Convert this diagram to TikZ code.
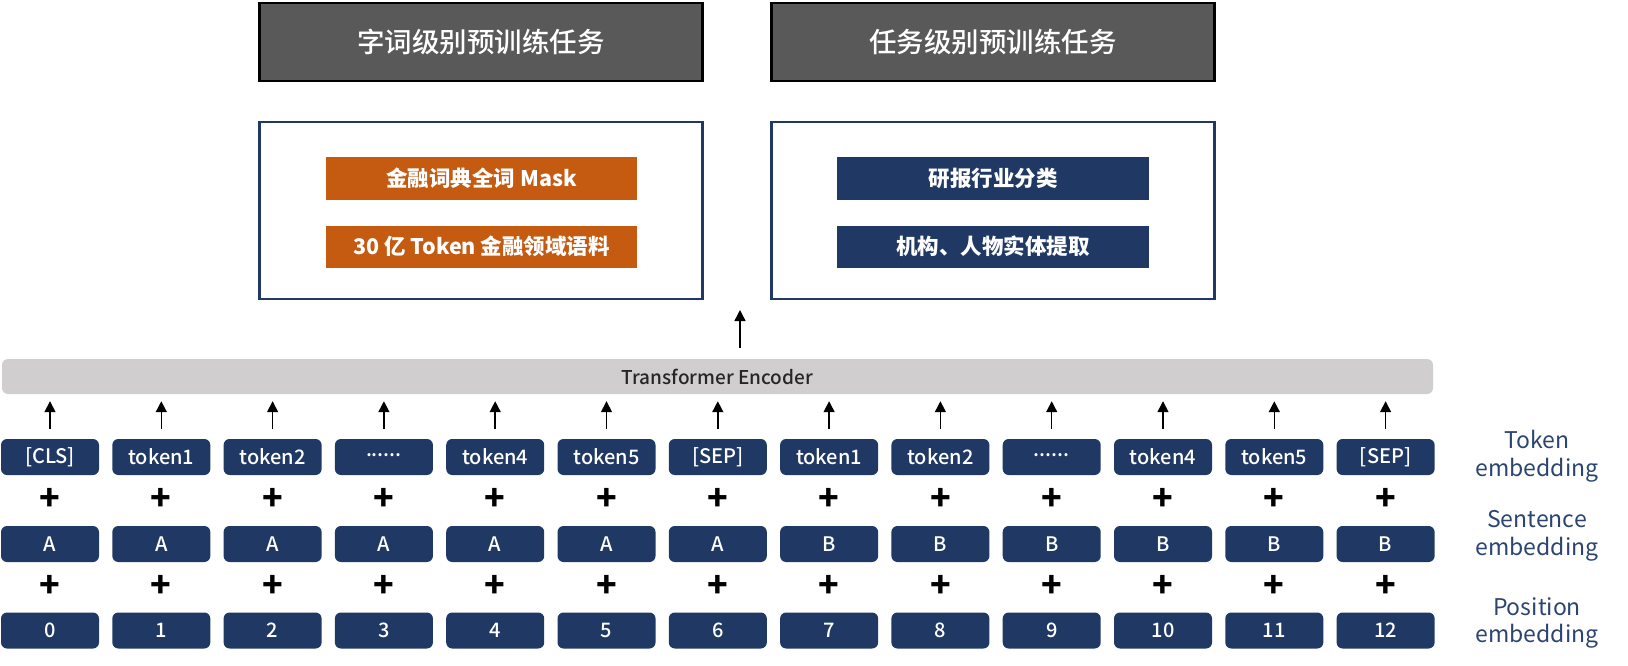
\documentclass[tikz,border=0pt]{standalone}
\usepackage{fontspec}
\setmainfont{Noto Sans CJK SC}
\newfontfamily\medfont{Noto Sans CJK SC Medium}
\usetikzlibrary{arrows.meta}
\definecolor{navy}{HTML}{203864}
\definecolor{rust}{HTML}{C55A11}
\definecolor{darkgray}{HTML}{595959}
\definecolor{bargray}{HTML}{D0CECE}
\definecolor{labelblue}{HTML}{2B4570}
\newcommand{\middots}{\raisebox{4pt}{......}}

\begin{document}
\begin{tikzpicture}[x=1pt, y=-1pt,
        taskhead/.style={rectangle, draw=black, line width=2.5pt, fill=darkgray, text=white, minimum width=443pt, minimum height=78pt, font=\medfont\fontsize{27.5}{27.5}\selectfont},
        taskframe/.style={rectangle, draw=navy, line width=2.5pt, fill=white, minimum width=443pt, minimum height=177pt},
        orangebar/.style={rectangle, fill=rust, text=white, minimum width=311pt, minimum height=42pt, font=\bfseries\fontsize{21.5}{21.5}\selectfont},
        navybar/.style={rectangle, fill=navy, text=white, minimum width=312pt, minimum height=42pt, font=\bfseries\fontsize{21.5}{21.5}\selectfont},
        embbox/.style={rectangle, rounded corners=6pt, fill=navy, text=white, minimum width=98pt, minimum height=36pt, inner sep=0pt, font=\medfont\fontsize{20}{20}\selectfont},
        plussign/.style={font=\bfseries\fontsize{34}{34}\selectfont, inner sep=0pt},
        rowlabel/.style={align=center, text=labelblue, font=\fontsize{23}{27.5}\selectfont},
        uparr/.style={-{Triangle[width=11pt, length=11pt]}, line width=1.5pt}]
        \useasboundingbox (0,0) rectangle (1628,666);

        % task heads and frames
        \node[taskhead] at (481, 42)    (wordhead) {字词级别预训练任务};
        \node[taskhead] at (993, 42)    (taskhd) {任务级别预训练任务};
        \node[taskframe] at (481, 210.5) (wordframe) {};
        \node[taskframe] at (993, 210.5) (taskframe) {};

        \node[orangebar] at (481.5, 178.5) (mask) {金融词典全词 Mask};
        \node[orangebar] at (481.5, 246.5) (corpus) {30 亿 Token 金融领域语料};
        \node[navybar] at (993, 178.5)   (cls) {研报行业分类};
        \node[navybar] at (993, 246.5)   (ner) {机构、人物实体提取};

        % encoder
        \node[rectangle, rounded corners=6pt, fill=bargray, minimum width=1431pt, minimum height=35pt,
            font=\medfont\fontsize{19}{19}\selectfont, text=black!85] at (717.5, 376.5) (enc) {Transformer Encoder};
        \coordinate (up) at (740, 299);
        \draw[uparr, shorten <=11pt, shorten >=11pt] (enc.north -| up) -- (up);

        % embedding columns
        \foreach \t [count=\i from 0] in {{[CLS]}, token1, token2, \middots, token4, token5, {[SEP]},
                token1, token2, \middots, token4, token5, {[SEP]}} {
            \node[embbox] at (50 + \i*111.3, 457)   (tok\i) {\t};
            \node[plussign] at (50 + \i*111.3, 499) (plusa\i) {+};
            \node[embbox] at (50 + \i*111.3, 544)   (sen\i) {\ifnum\i<7 A\else B\fi};
            \node[plussign] at (50 + \i*111.3, 586) (plusb\i) {+};
            \node[embbox] at (50 + \i*111.3, 630.5) (pos\i) {\i};
            \draw[uparr, shorten <=10pt, shorten >=7pt] (tok\i.north) -- (tok\i.north |- enc.south);
        }

        \node[rowlabel] at (1537, 456) (toklabel) {Token\\embedding};
        \node[rowlabel] at (1537, 536) (senlabel) {Sentence\\embedding};
        \node[rowlabel] at (1537, 623) (poslabel) {Position\\embedding};
    \end{tikzpicture}
\end{document}
